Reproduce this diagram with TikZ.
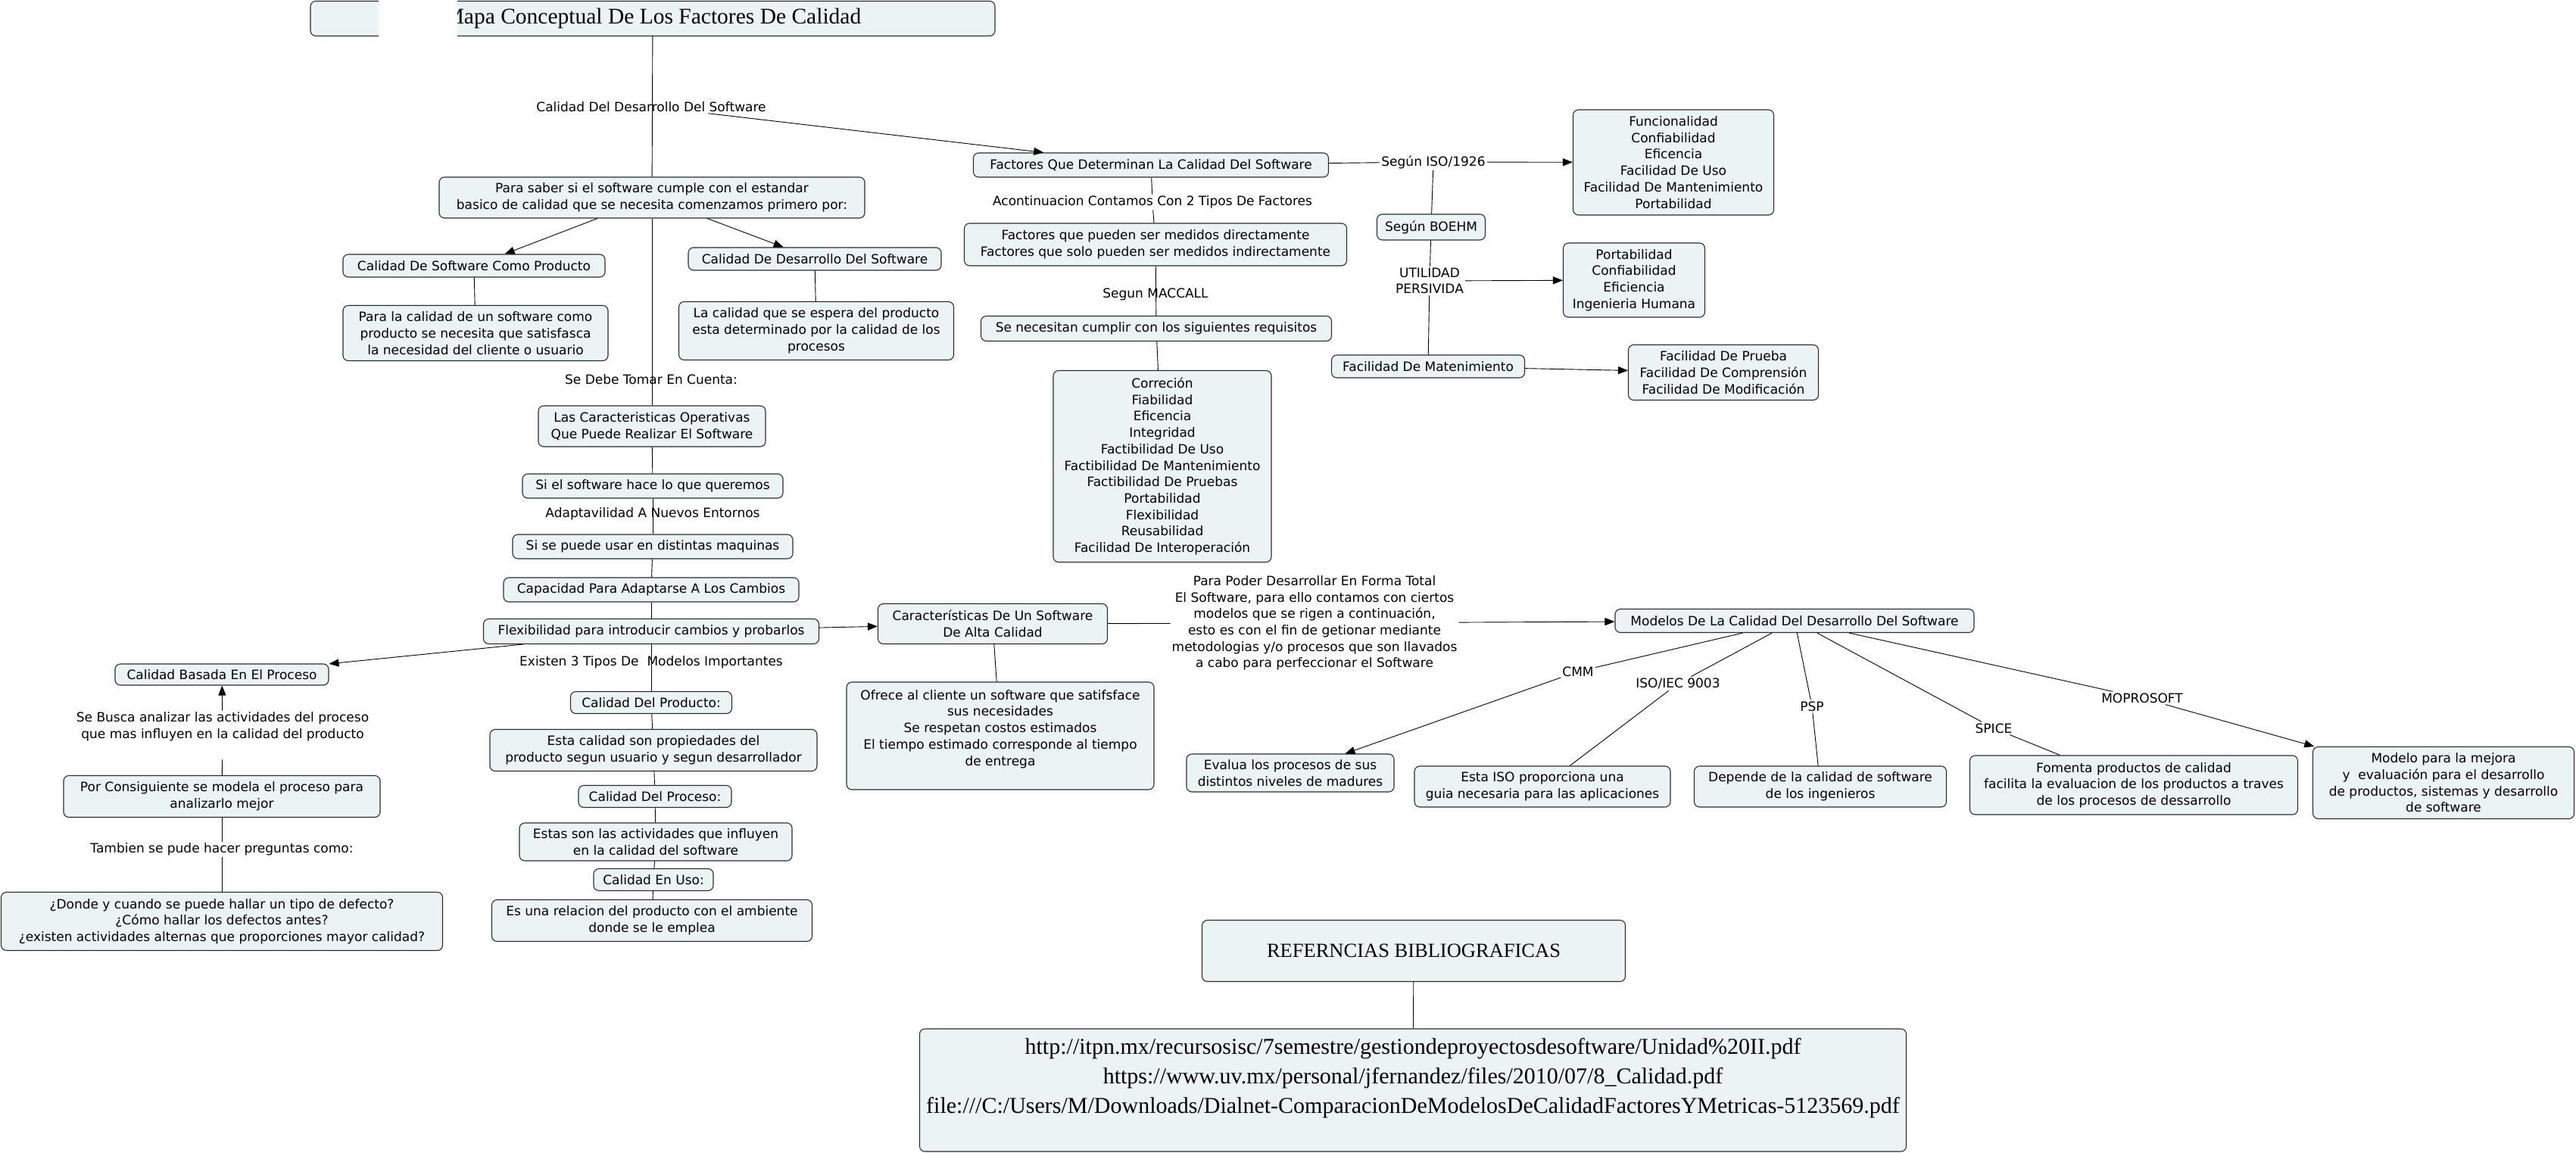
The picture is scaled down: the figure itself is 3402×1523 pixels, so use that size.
\documentclass[tikz,border=0pt]{standalone}
\usepackage{fontspec}
\setmainfont{DejaVu Sans}
\newfontfamily\serifttl{Liberation Serif}
\usetikzlibrary{arrows.meta}
\definecolor{boxfill}{RGB}{236,243,245}
\definecolor{boxline}{RGB}{45,45,45}
\begin{document}
\begin{tikzpicture}[x=1pt,y=-1pt,
  font=\fontsize{17}{21.7}\selectfont,
  box/.style={draw=boxline, fill=boxfill, rounded corners=7pt, line width=1.1pt, align=center, inner sep=2pt},
  lbl/.style={align=center, inner sep=2pt},
  conn/.style={line width=0.9pt, draw=black},
  arr/.style={conn, -{Triangle[length=13pt,width=10pt]}}]
\useasboundingbox (0,0) rectangle (3402,1523);
\fill[white] (0,0) rectangle (3402,1523);

% title
\node[box, minimum width=904, minimum height=46, font=\serifttl\fontsize{29.5}{34}\selectfont] (title) at (862,24.5) {Mapa Conceptual De Los Factores De Calidad};
\fill[white] (500,-2) rectangle (604,50);

% left / centre column
\node[lbl] (l1) at (860,141) {Calidad Del Desarrollo Del Software};
\node[box, minimum width=562, minimum height=54] (parasaber) at (861,261) {Para saber si el software cumple con el estandar\\basico de calidad que se necesita comenzamos primero por:};
\node[box, minimum width=346, minimum height=30] (csp) at (626,351) {Calidad De Software Como Producto};
\node[box, minimum width=334, minimum height=30] (cds) at (1076,342) {Calidad De Desarrollo Del Software};
\node[box, minimum width=350, minimum height=73] (paralacal) at (628,440) {Para la calidad de un software como\\producto se necesita que satisfasca\\la necesidad del cliente o usuario};
\node[box, minimum width=363, minimum height=77] (lacal) at (1078,437) {La calidad que se espera del producto\\esta determinado por la calidad de los\\procesos};
\node[lbl] (l2) at (860,501) {Se Debe Tomar En Cuenta:};
\node[box, minimum width=300, minimum height=54] (lascar) at (861,563) {Las Caracteristicas Operativas\\Que Puede Realizar El Software};
\node[box, minimum width=344, minimum height=32] (sielsoft) at (862,642) {Si el software hace lo que queremos};
\node[lbl] (l3) at (862,679) {Adaptavilidad A Nuevos Entornos};
\node[box, minimum width=370, minimum height=32] (siseusar) at (862,722) {Si se puede usar en distintas maquinas};
\node[box, minimum width=390, minimum height=32] (capac) at (860,779) {Capacidad Para Adaptarse A Los Cambios};
\node[box, minimum width=443, minimum height=33] (flex) at (860,834) {Flexibilidad para introducir cambios y probarlos};
\node[box, minimum width=282, minimum height=28] (basada) at (293,891) {Calidad Basada En El Proceso};
\node[lbl] (l4) at (860,875) {Existen 3 Tipos De\ \ Modelos Importantes};
\node[box, minimum width=213, minimum height=29] (calprod) at (860,928) {Calidad Del Producto:};
\node[box, minimum width=432, minimum height=55] (estacal) at (863,991) {Esta calidad son propiedades del\\producto segun usuario y segun desarrollador};
\node[box, minimum width=202, minimum height=29] (calproc) at (865,1052) {Calidad Del Proceso:};
\node[box, minimum width=360, minimum height=50] (estasson) at (866,1112) {Estas son las actividades que influyen\\en la calidad del software};
\node[box, minimum width=158, minimum height=29] (caluso) at (863,1162) {Calidad En Uso:};
\node[box, minimum width=423, minimum height=55] (esuna) at (861,1216) {Es una relacion del producto con el ambiente\\donde se le emplea};
\node[lbl] (sebusca) at (294,960) {Se Busca analizar las actividades del proceso\\que mas influyen en la calidad del producto};
\node[box, minimum width=418, minimum height=55] (porcons) at (293,1052) {Por Consiguiente se modela el proceso para\\analizarlo mejor};
\node[lbl] (tambien) at (293,1122) {Tambien se pude hacer preguntas como:};
\node[box, minimum width=583, minimum height=77] (donde) at (293,1217) {¿Donde y cuando se puede hallar un tipo de defecto?\\¿Cómo hallar los defectos antes?\\¿existen actividades alternas que proporciones mayor calidad?};

% middle
\node[box, minimum width=303, minimum height=53] (caract) at (1311,824) {Características De Un Software\\De Alta Calidad};
\node[box, minimum width=406, minimum height=142] (ofrece) at (1321,972) {Ofrece al cliente un software que satifsface\\sus necesidades\\Se respetan costos estimados\\El tiempo estimado corresponde al tiempo\\de entrega\\\mbox{}};
\node[lbl] (parapoder) at (1736,823) {Para Poder Desarrollar En Forma Total\\El Software, para ello contamos con ciertos\\modelos que se rigen a continuación,\\esto es con el fin de getionar mediante\\metodologias y/o procesos que son llavados\\a cabo para perfeccionar el Software};

% models
\node[box, minimum width=474, minimum height=31] (modelos) at (2370,820) {Modelos De La Calidad Del Desarrollo Del Software};
\node[lbl] (cmm) at (2084,887) {CMM};
\node[box, minimum width=274, minimum height=50] (evalua) at (1704,1021) {Evalua los procesos de sus\\distintos niveles de madures};
\node[lbl] (iso) at (2216,903) {ISO/IEC 9003};
\node[box, minimum width=338, minimum height=54] (estaiso) at (2037,1039) {Esta ISO proporciona una\\guia necesaria para las aplicaciones};
\node[lbl] (psp) at (2393,933) {PSP};
\node[box, minimum width=333, minimum height=54] (depende) at (2404,1039) {Depende de la calidad de software\\de los ingenieros};
\node[lbl] (spice) at (2633,962) {SPICE};
\node[box, minimum width=433, minimum height=78] (fomenta) at (2818,1037) {Fomenta productos de calidad\\facilita la evaluacion de los productos a traves\\de los procesos de dessarrollo};
\node[lbl] (mopro) at (2829,922) {MOPROSOFT};
\node[box, minimum width=345, minimum height=95] (modelo) at (3227,1034) {Modelo para la mejora\\y\ \ evaluación para el desarrollo\\de productos, sistemas y desarrollo\\de software};

% top right
\node[box, minimum width=469, minimum height=32] (factores) at (1520,218) {Factores Que Determinan La Calidad Del Software};
\node[lbl] (segiso) at (1893,214) {Según ISO/1926};
\node[box, minimum width=265, minimum height=139] (funcion) at (2210,214.5) {Funcionalidad\\Confiabilidad\\Eficencia\\Facilidad De Uso\\Facilidad De Mantenimiento\\Portabilidad};
\node[box, minimum width=143, minimum height=34] (boehm) at (1890,300) {Según BOEHM};
\node[lbl] (util) at (1888,371) {UTILIDAD\\PERSIVIDA};
\node[box, minimum width=187, minimum height=98] (portab) at (2158,370) {Portabilidad\\Confiabilidad\\Eficiencia\\Ingenieria Humana};
\node[box, minimum width=255, minimum height=30] (facmant) at (1886,484) {Facilidad De Matenimiento};
\node[box, minimum width=251, minimum height=73] (facprueba) at (2276,492) {Facilidad De Prueba\\Facilidad De Comprensión\\Facilidad De Modificación};
\node[lbl] (aconti) at (1522,267) {Acontinuacion Contamos Con 2 Tipos De Factores};
\node[box, minimum width=505, minimum height=56] (factmed) at (1526,323) {Factores que pueden ser medidos directamente\\Factores que solo pueden ser medidos indirectamente};
\node[lbl] (maccall) at (1526,389) {Segun MACCALL};
\node[box, minimum width=463, minimum height=33] (senec) at (1527,434) {Se necesitan cumplir con los siguientes requisitos};
\node[box, minimum width=288, minimum height=253] (correc) at (1535,616) {Correción\\Fiabilidad\\Eficencia\\Integridad\\Factibilidad De Uso\\Factibilidad De Mantenimiento\\Factibilidad De Pruebas\\Portabilidad\\Flexibilidad\\Reusabilidad\\Facilidad De Interoperación};

% references
\node[box, minimum width=559, minimum height=81, font=\serifttl\fontsize{26.5}{32}\selectfont] (refs) at (1867,1256) {REFERNCIAS BIBLIOGRAFICAS};
\node[box, minimum width=1303, minimum height=162, font=\serifttl\fontsize{30}{39}\selectfont] (urls) at (1866,1440) {http://itpn.mx/recursosisc/7semestre/gestiondeproyectosdesoftware/Unidad\%20II.pdf\\https://www.uv.mx/personal/jfernandez/files/2010/07/8\_Calidad.pdf\\file:///C:/Users/M/Downloads/Dialnet-ComparacionDeModelosDeCalidadFactoresYMetricas-5123569.pdf\\\mbox{}};

% connectors
\draw[conn] (title) -- (parasaber);
\draw[arr] (l1) -- (factores);
\draw[arr] (parasaber) -- (csp);
\draw[arr] (parasaber) -- (cds);
\draw[conn] (csp) -- (paralacal);
\draw[conn] (cds) -- (lacal);
\draw[conn] (parasaber) -- (lascar);
\draw[conn] (lascar) -- (sielsoft);
\draw[conn] (sielsoft) -- (siseusar);
\draw[conn] (siseusar) -- (capac);
\draw[conn] (capac) -- (flex);
\draw[arr] (flex) -- (caract);
\draw[arr] (flex) -- (basada);
\draw[conn] (flex) -- (calprod);
\draw[conn] (calprod) -- (estacal);
\draw[conn] (estacal) -- (calproc);
\draw[conn] (calproc) -- (estasson);
\draw[conn] (estasson) -- (caluso);
\draw[conn] (caluso) -- (esuna);
\draw[arr] (sebusca) -- (basada);
\draw[conn, shorten <=22pt] (sebusca) -- (porcons);
\draw[conn] (porcons) -- (tambien);
\draw[conn] (tambien) -- (donde);
\draw[conn] (caract) -- (ofrece);
\draw[conn] (caract) -- (parapoder);
\draw[arr] (parapoder) -- (modelos);
\draw[conn] (modelos) -- (cmm);
\draw[arr] (cmm) -- (evalua);
\draw[conn] (modelos) -- (iso);
\draw[conn] (iso) -- (estaiso);
\draw[conn] (modelos) -- (psp);
\draw[conn] (psp) -- (depende);
\draw[conn] (modelos) -- (spice);
\draw[conn] (spice) -- (fomenta);
\draw[conn] (modelos) -- (mopro);
\draw[arr] (mopro) -- (modelo);
\draw[conn] (factores) -- (segiso);
\draw[arr] (segiso) -- (funcion);
\draw[conn] (segiso) -- (boehm);
\draw[conn] (boehm) -- (util);
\draw[arr] (util) -- (portab);
\draw[conn] (util) -- (facmant);
\draw[arr] (facmant) -- (facprueba);
\draw[conn] (factores) -- (aconti);
\draw[conn] (aconti) -- (factmed);
\draw[conn] (factmed) -- (senec);
\draw[conn] (senec) -- (correc);
\draw[conn] (refs) -- (urls);
\end{tikzpicture}
\end{document}
